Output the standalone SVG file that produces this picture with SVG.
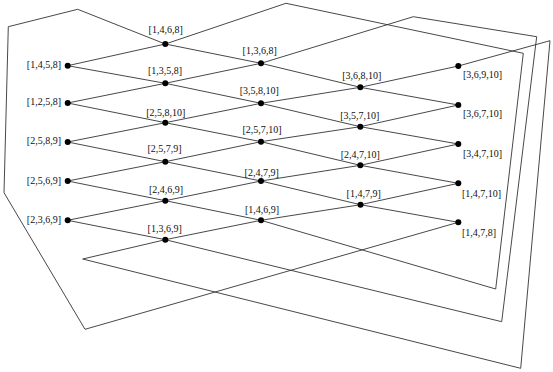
<svg xmlns="http://www.w3.org/2000/svg" width="553" height="372" viewBox="0 0 553 372">
<style>
.e{stroke:#333;stroke-width:0.9;fill:none}
.d{fill:#000}
text{font-family:"Liberation Serif","Times New Roman",serif;font-size:10px;fill:#111}
.m{text-anchor:middle}
.r{text-anchor:end}
</style>
<rect width="553" height="372" fill="#fff"/>
<g id="connectors" class="e">
<!-- col1-col2 -->
<line x1="67.7" y1="65.7" x2="165.3" y2="44"/>
<line x1="67.7" y1="65.7" x2="165.3" y2="83.3"/>
<line x1="67.7" y1="103" x2="165.3" y2="83.3"/>
<line x1="67.7" y1="103" x2="165.3" y2="122.7"/>
<line x1="67.7" y1="142" x2="165.3" y2="122.7"/>
<line x1="67.7" y1="142" x2="165.3" y2="161.7"/>
<line x1="67.7" y1="181" x2="165.3" y2="161.7"/>
<line x1="67.7" y1="181" x2="165.3" y2="200.7"/>
<line x1="67.7" y1="220.3" x2="165.3" y2="200.7"/>
<line x1="67.7" y1="220.3" x2="165.3" y2="239.7"/>
<!-- col2-col3 -->
<line x1="165.3" y1="44" x2="261" y2="63.3"/>
<line x1="165.3" y1="83.3" x2="261" y2="63.3"/>
<line x1="165.3" y1="83.3" x2="261" y2="103.3"/>
<line x1="165.3" y1="122.7" x2="261" y2="103.3"/>
<line x1="165.3" y1="122.7" x2="261" y2="141.7"/>
<line x1="165.3" y1="161.7" x2="261" y2="141.7"/>
<line x1="165.3" y1="161.7" x2="261" y2="181"/>
<line x1="165.3" y1="200.7" x2="261" y2="181"/>
<line x1="165.3" y1="200.7" x2="261" y2="220.3"/>
<line x1="165.3" y1="239.7" x2="261" y2="220.3"/>
<!-- col3-col4 -->
<line x1="261" y1="63.3" x2="360.3" y2="87.3"/>
<line x1="261" y1="103.3" x2="360.3" y2="87.3"/>
<line x1="261" y1="103.3" x2="360.3" y2="126.7"/>
<line x1="261" y1="141.7" x2="360.3" y2="126.7"/>
<line x1="261" y1="141.7" x2="360.3" y2="165.3"/>
<line x1="261" y1="181" x2="360.3" y2="165.3"/>
<line x1="261" y1="181" x2="360.5" y2="204.7"/>
<line x1="261" y1="220.3" x2="360.5" y2="204.7"/>
<!-- col4-col5 -->
<line x1="360.3" y1="87.3" x2="458.3" y2="66"/>
<line x1="360.3" y1="87.3" x2="458.3" y2="105"/>
<line x1="360.3" y1="126.7" x2="458.3" y2="105"/>
<line x1="360.3" y1="126.7" x2="458.3" y2="144"/>
<line x1="360.3" y1="165.3" x2="458.3" y2="144"/>
<line x1="360.3" y1="165.3" x2="458.3" y2="183.3"/>
<line x1="360.5" y1="204.7" x2="458.3" y2="183.3"/>
<line x1="360.5" y1="204.7" x2="458.3" y2="222.3"/>
<!-- wrap-around connectors -->
<polyline points="165.3,44 286,3.3 523.3,53.3 495.7,289 261,220.3"/>
<polyline points="261,63.3 413.3,16.7 536.7,36.7 501.7,321.7 165.3,239.7"/>
<polyline points="458.3,66 550,40.7 520.7,368.3 82.7,259 165.3,239.7"/>
<polyline points="165.3,44 77.7,9.3 8.3,26.7 4,192.7 85,329.3 458.3,222.3"/>
</g>
<g id="n1458"><circle class="d" cx="67.7" cy="65.7" r="3"/><text class="r" x="61" y="67.8">[1,4,5,8]</text></g>
<g id="n1258"><circle class="d" cx="67.7" cy="103" r="3"/><text class="r" x="61" y="104.8">[1,2,5,8]</text></g>
<g id="n2589"><circle class="d" cx="67.7" cy="142" r="3"/><text class="r" x="61" y="144">[2,5,8,9]</text></g>
<g id="n2569"><circle class="d" cx="67.7" cy="181" r="3"/><text class="r" x="61" y="183.5">[2,5,6,9]</text></g>
<g id="n2369"><circle class="d" cx="67.7" cy="220.3" r="3"/><text class="r" x="61" y="222.5">[2,3,6,9]</text></g>
<g id="n1468"><circle class="d" cx="165.3" cy="44" r="3"/><text class="m" x="165.7" y="32.5">[1,4,6,8]</text></g>
<g id="n1358"><circle class="d" cx="165.3" cy="83.3" r="3"/><text class="m" x="165" y="74">[1,3,5,8]</text></g>
<g id="n25810"><circle class="d" cx="165.3" cy="122.7" r="3"/><text class="m" x="165.8" y="115.5">[2,5,8,10]</text></g>
<g id="n2579"><circle class="d" cx="165.3" cy="161.7" r="3"/><text class="m" x="164.5" y="152">[2,5,7,9]</text></g>
<g id="n2469"><circle class="d" cx="165.3" cy="200.7" r="3"/><text class="m" x="166" y="193">[2,4,6,9]</text></g>
<g id="n1369"><circle class="d" cx="165.3" cy="239.7" r="3"/><text class="m" x="164.7" y="232">[1,3,6,9]</text></g>
<g id="n1368"><circle class="d" cx="261" cy="63.3" r="3"/><text class="m" x="259.7" y="54">[1,3,6,8]</text></g>
<g id="n35810"><circle class="d" cx="261" cy="103.3" r="3"/><text class="m" x="259.3" y="94">[3,5,8,10]</text></g>
<g id="n25710"><circle class="d" cx="261" cy="141.7" r="3"/><text class="m" x="262" y="132.5">[2,5,7,10]</text></g>
<g id="n2479"><circle class="d" cx="261" cy="181" r="3"/><text class="m" x="261.7" y="175.5">[2,4,7,9]</text></g>
<g id="n1469"><circle class="d" cx="261" cy="220.3" r="3"/><text class="m" x="262" y="212.5">[1,4,6,9]</text></g>
<g id="n36810"><circle class="d" cx="360.3" cy="87.3" r="3"/><text class="m" x="361.8" y="78.5">[3,6,8,10]</text></g>
<g id="n35710"><circle class="d" cx="360.3" cy="126.7" r="3"/><text class="m" x="359.8" y="118.5">[3,5,7,10]</text></g>
<g id="n24710"><circle class="d" cx="360.3" cy="165.3" r="3"/><text class="m" x="360.3" y="157.5">[2,4,7,10]</text></g>
<g id="n1479"><circle class="d" cx="360.5" cy="204.7" r="3"/><text class="m" x="363.7" y="197">[1,4,7,9]</text></g>
<g id="n36910"><circle class="d" cx="458.3" cy="66" r="3"/><text x="463" y="78">[3,6,9,10]</text></g>
<g id="n36710"><circle class="d" cx="458.3" cy="105" r="3"/><text x="463" y="117">[3,6,7,10]</text></g>
<g id="n34710"><circle class="d" cx="458.3" cy="144" r="3"/><text x="463" y="157">[3,4,7,10]</text></g>
<g id="n14710"><circle class="d" cx="458.3" cy="183.3" r="3"/><text x="462" y="197">[1,4,7,10]</text></g>
<g id="n1478"><circle class="d" cx="458.3" cy="222.3" r="3"/><text x="462" y="236">[1,4,7,8]</text></g>
</svg>
